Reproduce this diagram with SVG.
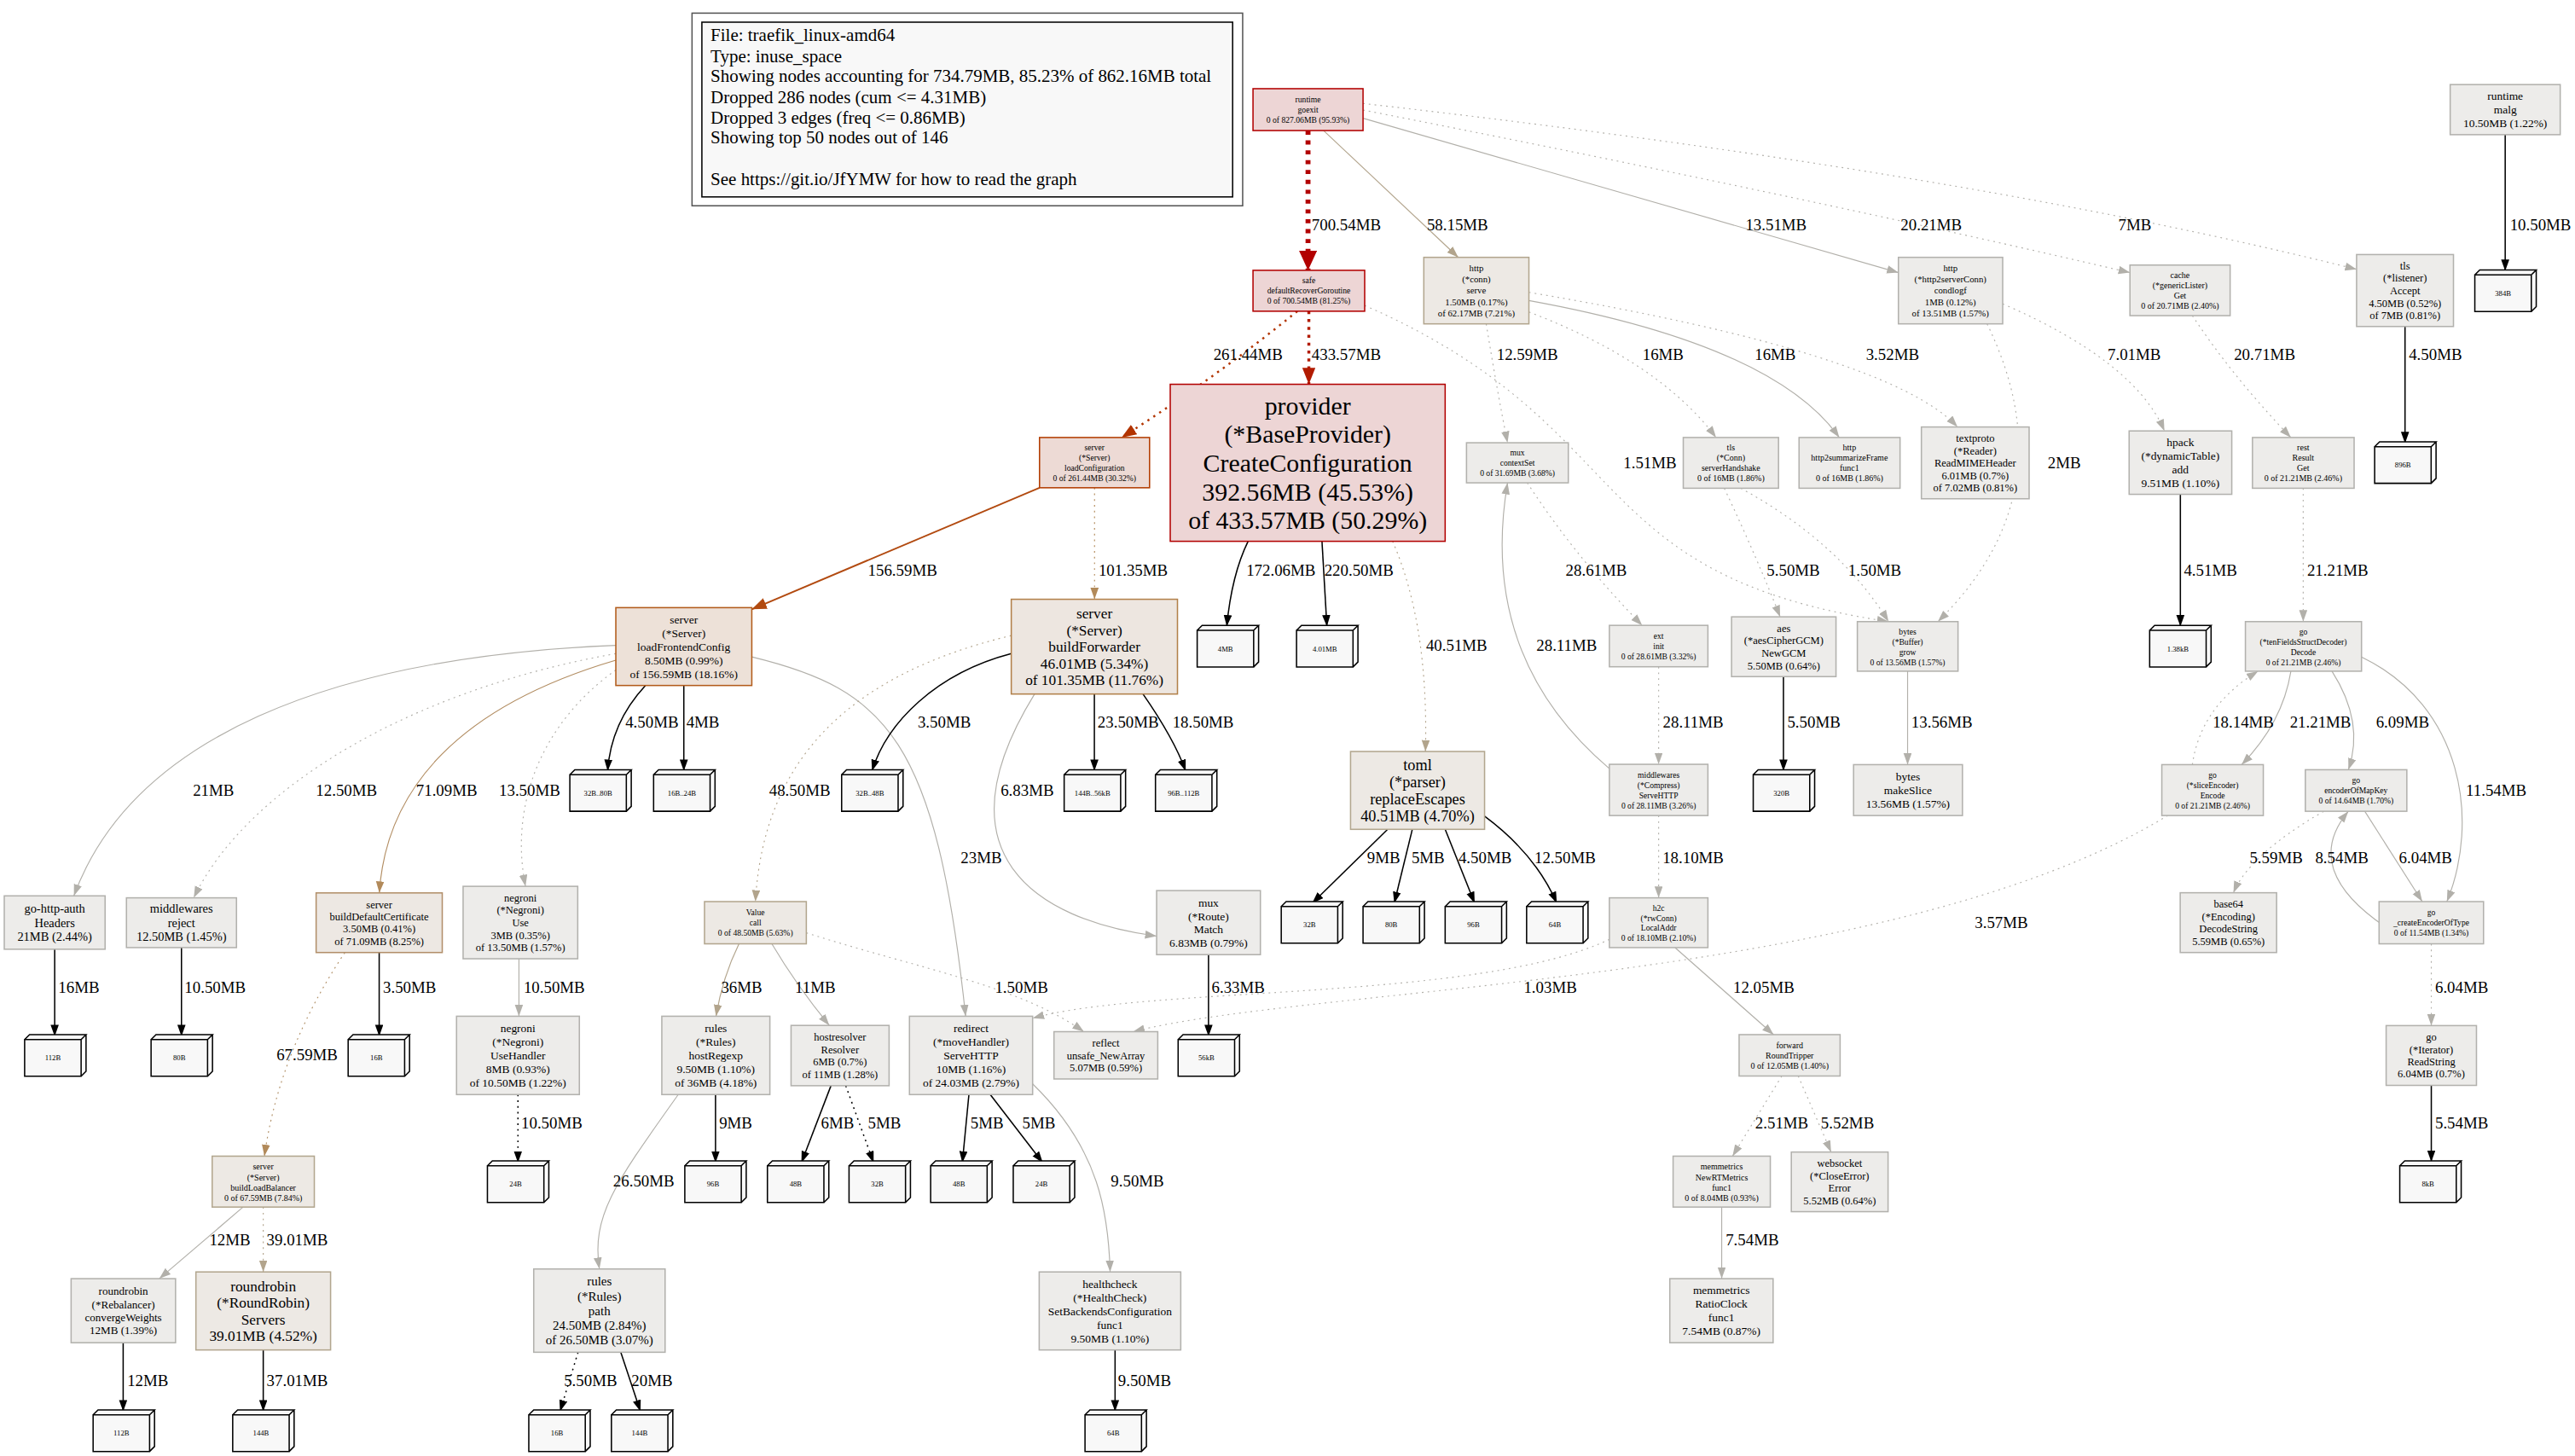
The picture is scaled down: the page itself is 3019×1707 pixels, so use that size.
<svg xmlns="http://www.w3.org/2000/svg" xmlns:xlink="http://www.w3.org/1999/xlink" width="3019" height="1707" viewBox="0 0 3019 1707">
<style>
text{font-family:"Liberation Serif","Times New Roman",serif;fill:#000;text-anchor:middle}
.leg text{text-anchor:start;font-size:10.9px}
.R{fill:#edd5d5;stroke:#b20000;stroke-width:0.8}
.O{fill:#eddad5;stroke:#b23c00;stroke-width:0.8}
.F{fill:#ede1d8;stroke:#b25b1a;stroke-width:0.8}
.B{fill:#ede6e0;stroke:#b2804a;stroke-width:0.8}
.C{fill:#ede8e3;stroke:#b28f6a;stroke-width:0.8}
.T{fill:#ede9e4;stroke:#b2a68e;stroke-width:0.8}
.G{fill:#edecea;stroke:#b2b1ad;stroke-width:0.8}
.s5{font-size:5px}.s52{font-size:5.2px}.s56{font-size:5.6px}.s65{font-size:6.5px}.s7{font-size:7px}.s75{font-size:7.5px}.s78{font-size:7.8px}.s9{font-size:9px}.s95{font-size:9.5px}.s155{font-size:15.5px}
.bl{font-size:4.5px}
.e{fill:none;stroke-width:0.6}
.g{stroke:#b2b0aa;marker-end:url(#mg)}
.t{stroke:#b2a48c;marker-end:url(#mt)}
.k{stroke:#000;stroke-width:0.8;marker-end:url(#mk)}
.d{stroke-dasharray:1,2.5}
.lb text,.lb{font-size:9.8px}
</style>
<defs>
<marker id="mg" markerUnits="userSpaceOnUse" markerWidth="8" markerHeight="6" refX="7" refY="2.5" orient="auto"><path d="M0,0L7,2.5L0,5z" fill="#b2b0aa"/></marker>
<marker id="mt" markerUnits="userSpaceOnUse" markerWidth="8" markerHeight="6" refX="7" refY="2.5" orient="auto"><path d="M0,0L7,2.5L0,5z" fill="#b2a48c"/></marker>
<marker id="mb" markerUnits="userSpaceOnUse" markerWidth="8" markerHeight="6" refX="7" refY="2.5" orient="auto"><path d="M0,0L7,2.5L0,5z" fill="#b28a5a"/></marker>
<marker id="mk" markerUnits="userSpaceOnUse" markerWidth="8" markerHeight="6" refX="7" refY="2.5" orient="auto"><path d="M0,0L7,2.5L0,5z" fill="#000"/></marker>
<marker id="mo" markerUnits="userSpaceOnUse" markerWidth="10" markerHeight="8" refX="9" refY="3.5" orient="auto"><path d="M0,0L9,3.5L0,7z" fill="#b24a10"/></marker>
<marker id="mo2" markerUnits="userSpaceOnUse" markerWidth="10" markerHeight="8" refX="9" refY="3.5" orient="auto"><path d="M0,0L9,3.5L0,7z" fill="#b23400"/></marker>
<marker id="mr" markerUnits="userSpaceOnUse" markerWidth="13" markerHeight="12" refX="12" refY="5.5" orient="auto"><path d="M0,0L12,5.5L0,11z" fill="#b20000"/></marker>
<marker id="mr2" markerUnits="userSpaceOnUse" markerWidth="11" markerHeight="9" refX="10" refY="4" orient="auto"><path d="M0,0L10,4L0,8z" fill="#b21b00"/></marker>
<path id="box" d="M0,3h34.4v22.3h-34.4zM0,3l3,-3h34.4l-3,3M34.4,25.3l3,-3V0" fill="#f8f8f8" stroke="#000" stroke-width="0.8"/>
</defs>
<rect width="3019" height="1707" fill="#fff"/>
<g transform="scale(1.92538)">
<g id="legend" class="leg">
<rect x="421.4" y="8" width="335.3" height="117.3" fill="#fff" stroke="#555" stroke-width="0.8"/>
<rect x="427.4" y="13.5" width="323.2" height="106.4" fill="#f8f8f8" stroke="#000" stroke-width="0.8"/>
<text x="432.7" y="24.8">File: traefik_linux-amd64</text>
<text x="432.7" y="37.8">Type: inuse_space</text>
<text x="432.7" y="50.1">Showing nodes accounting for 734.79MB, 85.23% of 862.16MB total</text>
<text x="432.7" y="62.6">Dropped 286 nodes (cum &lt;= 4.31MB)</text>
<text x="432.7" y="75.2">Dropped 3 edges (freq &lt;= 0.86MB)</text>
<text x="432.7" y="87.5">Showing top 50 nodes out of 146</text>
<text x="432.7" y="112.9">See https://git.io/JfYMW for how to read the graph</text>
</g>
<g id="edges" class="lb">
<path d="M796.5,79.5L796.5,164.6" fill="none" stroke="#b20000" stroke-width="3" stroke-dasharray="2.5,3.5" marker-end="url(#mr)"/><text x="819.8" y="140.4">700.54MB</text>
<path class="e t" d="M806,79.5L888,156.7"/><text x="887.5" y="140.4">58.15MB</text>
<path class="e g" d="M830,72L1156,166"/><text x="1081.5" y="140.4">13.51MB</text>
<path class="e g d" d="M830,67Q1100,120 1297,166"/><text x="1176" y="140.4">20.21MB</text>
<path class="e g d" d="M830,63Q1200,105 1435,164"/><text x="1300" y="140.4">7MB</text>
<path class="e k" d="M1525.5,82L1525.5,165"/><text x="1547" y="140.4">10.50MB</text>
<path class="e k" d="M1464.5,198.8L1464.5,270"/><text x="1483" y="219.4">4.50MB</text>
<path d="M790,189.5Q740,230 683,266.4" fill="none" stroke="#b23400" stroke-width="1.3" stroke-dasharray="1.3,3" marker-end="url(#mo2)"/><text x="760" y="219.4">261.44MB</text>
<path d="M797,189.5L797,234" fill="none" stroke="#b21b00" stroke-width="1.8" stroke-dasharray="1.8,3" marker-end="url(#mr2)"/><text x="819.8" y="219.4">433.57MB</text>
<path class="e g d" d="M831,186C1000,260 960,350 1150,378.5"/><text x="1004.7" y="285">1.51MB</text>
<path class="e g d" d="M905,197.2Q912,240 918,269.6"/><text x="930" y="219.4">12.59MB</text>
<path class="e g d" d="M931,190Q1010,220 1045,266.4"/><text x="1012.7" y="219.4">16MB</text>
<path class="e g" d="M931,183Q1080,210 1120,266.4"/><text x="1081" y="219.4">16MB</text>
<path class="e g d" d="M931,178Q1150,215 1192,260"/><text x="1152.4" y="219.4">3.52MB</text>
<path class="e g d" d="M1210,197.2Q1260,300 1180,378.5"/><text x="1257" y="285">2MB</text>
<path class="e g d" d="M1219.5,185Q1300,220 1318,262.4"/><text x="1299.6" y="219.4">7.01MB</text>
<path class="e g d" d="M1335,192.2Q1360,230 1395,266.4"/><text x="1379" y="219.4">20.71MB</text>
<path class="e k" d="M1327.7,301L1327.7,381.5"/><text x="1346" y="350.4">4.51MB</text>
<path class="e g d" d="M1402.5,297.3L1402.5,378.5"/><text x="1423.5" y="350.4">21.21MB</text>
<path class="e k" d="M760,329.6Q750,350 747,381.5"/><text x="780" y="350.4">172.06MB</text>
<path class="e k" d="M805,329.6L808,381.5"/><text x="827.5" y="350.4">220.50MB</text>
<path class="e t d" d="M848,329.6Q870,380 868,457.6"/><text x="887" y="396.4">40.51MB</text>
<path d="M633,297L457.8,371" fill="none" stroke="#b24a10" stroke-width="1" marker-end="url(#mo)"/><text x="549.6" y="350.4">156.59MB</text>
<path class="e d" d="M666.5,297L666.5,364.9" stroke="#b28a5a" marker-end="url(#mb)"/><text x="690" y="350.4">101.35MB</text>
<path class="e g d" d="M930,294Q960,340 1000,380.8"/><text x="972" y="350.4">28.61MB</text>
<path class="e g" d="M980,468Q900,400 918,294"/><text x="954" y="396.4">28.11MB</text>
<path class="e g d" d="M1010,406L1010,465.4"/><text x="1031" y="442.9">28.11MB</text>
<path class="e g d" d="M1050,297.3Q1070,340 1084,375.6"/><text x="1092" y="350.4">5.50MB</text>
<path class="e g d" d="M1060,297.3Q1120,330 1150,378.5"/><text x="1141.6" y="350.4">1.50MB</text>
<path class="e k" d="M1086,412L1086,469.5"/><text x="1104.5" y="442.9">5.50MB</text>
<path class="e g" d="M1161.6,408.7L1161.6,465.6"/><text x="1182.5" y="442.9">13.56MB</text>
<path class="e g" d="M1395,408.7Q1390,440 1365,465.6"/><text x="1413" y="442.9">21.21MB</text>
<path class="e g d" d="M1335,465.6Q1340,430 1375,408.7"/><text x="1366" y="442.9">18.14MB</text>
<path class="e g" d="M1420,408.7Q1440,440 1430,468.7"/><text x="1463" y="442.9">6.09MB</text>
<path class="e g" d="M1438,400C1500,430 1510,500 1490,549"/><text x="1520" y="484.4">11.54MB</text>
<path class="e g d" d="M1415,494Q1370,520 1360,543.6"/><text x="1386" y="525.4">5.59MB</text>
<path class="e g" d="M1455,566Q1400,530 1430,494"/><text x="1426" y="525.4">8.54MB</text>
<path class="e g" d="M1440,494L1475,549"/><text x="1477" y="525.4">6.04MB</text>
<path class="e g d" d="M1480.5,574.7L1480.5,624.5"/><text x="1499" y="604.4">6.04MB</text>
<path class="e k" d="M1480.5,660.9L1480.5,707.5"/><text x="1499" y="687">5.54MB</text>
<path class="e g d" d="M1320,496.6C1150,600 800,600 690,628.2"/><text x="1218.7" y="565">3.57MB</text>
<path class="e g d" d="M1010,496.6L1010,546.7"/><text x="1031" y="525.4">18.10MB</text>
<path class="e g" d="M1020,577L1080,630"/><text x="1074" y="604.4">12.05MB</text>
<path class="e g d" d="M980,572C900,610 700,600 628.8,620"/><text x="944" y="604.4">1.03MB</text>
<path class="e g d" d="M491,568C560,590 620,600 660,628.2"/><text x="622" y="604.4">1.50MB</text>
<path class="e g d" d="M1085,655.2L1055,704"/><text x="1085" y="687">2.51MB</text>
<path class="e g d" d="M1095,655.2L1115,701.5"/><text x="1125" y="687">5.52MB</text>
<path class="e g" d="M1048.4,735L1048.4,778.6"/><text x="1067" y="758.2">7.54MB</text>
<path class="e g" d="M375,393C200,400 80,450 45,545.5"/><text x="130" y="484.4">21MB</text>
<path class="e g d" d="M375,398C250,420 150,480 118,546.7"/><text x="211" y="484.4">12.50MB</text>
<path class="e" d="M375,402C280,430 235,480 231,543.7" stroke="#b28d62" marker-end="url(#mb)"/><text x="272" y="484.4">71.09MB</text>
<path class="e g d" d="M375,408C330,440 310,490 320,539.7"/><text x="322.5" y="484.4">13.50MB</text>
<path class="e k" d="M393,417.4Q372,440 370,469.5"/><text x="397" y="442.9">4.50MB</text>
<path class="e k" d="M416.4,417.4L416.4,469.5"/><text x="428" y="442.9">4MB</text>
<path class="e g" d="M457.8,400C540,420 570,450 588,618.8"/><text x="597.5" y="525.4">23MB</text>
<path class="e t d" d="M615.8,387C520,410 465,460 460,549"/><text x="487" y="484.4">48.50MB</text>
<path class="e k" d="M615.8,398C570,410 540,440 531,469.5"/><text x="575" y="442.9">3.50MB</text>
<path class="e k" d="M666.4,422.6L666.4,469.5"/><text x="687" y="442.9">23.50MB</text>
<path class="e k" d="M696,422.6Q715,450 722,469.5"/><text x="732.6" y="442.9">18.50MB</text>
<path class="e g" d="M630,422.6C570,520 630,560 704.3,570"/><text x="625.5" y="484.4">6.83MB</text>
<path class="e k" d="M845,505L799,550"/><text x="842.5" y="525.4">9MB</text>
<path class="e k" d="M860,505L849,550"/><text x="869.6" y="525.4">5MB</text>
<path class="e k" d="M880,505L898,550"/><text x="904.3" y="525.4">4.50MB</text>
<path class="e k" d="M904,497Q935,520 948,550"/><text x="953" y="525.4">12.50MB</text>
<path class="e k" d="M735.9,581.3L735.9,631"/><text x="754" y="604.4">6.33MB</text>
<path class="e k" d="M33.3,578L33.3,631"/><text x="48" y="604.4">16MB</text>
<path class="e k" d="M110.5,577L110.5,631"/><text x="131" y="604.4">10.50MB</text>
<path class="e k" d="M230.9,580L230.9,631"/><text x="249.4" y="604.4">3.50MB</text>
<path class="e d" d="M210,580Q170,640 161,704" stroke="#b2926a" marker-end="url(#mb)"/><text x="187" y="645.4">67.59MB</text>
<path class="e g" d="M316,583.8L316,618.8"/><text x="337.5" y="604.4">10.50MB</text>
<path class="e k d" d="M315.4,666.5L315.4,708"/><text x="336" y="687">10.50MB</text>
<path class="e t" d="M450,574.7Q440,595 436,618.8"/><text x="451.6" y="604.4">36MB</text>
<path class="e g" d="M470,574.7Q485,600 505,624.4"/><text x="496.4" y="604.4">11MB</text>
<path class="e k" d="M435.7,666.5L435.7,708"/><text x="448" y="687">9MB</text>
<path class="e g" d="M413,666.5C375,720 360,740 365,772.7"/><text x="392" y="722.6">26.50MB</text>
<path class="e k" d="M506,661.1L488,708"/><text x="510" y="687">6MB</text>
<path class="e k d" d="M515,661.1L532,708"/><text x="538.6" y="687">5MB</text>
<path class="e k" d="M590,666.5L586,708"/><text x="601" y="687">5MB</text>
<path class="e k" d="M603,666.5L635,708"/><text x="632.6" y="687">5MB</text>
<path class="e g" d="M628.8,660C670,700 675,740 676,774.5"/><text x="692.6" y="722.6">9.50MB</text>
<path class="e g" d="M148,735L97,778.6"/><text x="140" y="758.2">12MB</text>
<path class="e t d" d="M160.3,735L160.3,774.5"/><text x="181" y="758.2">39.01MB</text>
<path class="e k" d="M75,817.6L75,859.5"/><text x="90" y="844">12MB</text>
<path class="e k" d="M160.3,822L160.3,859.5"/><text x="181" y="844">37.01MB</text>
<path class="e k d" d="M352,823.4L341,859.5"/><text x="359.6" y="844">5.50MB</text>
<path class="e k" d="M378,823.4L390,859.5"/><text x="397" y="844">20MB</text>
<path class="e k" d="M679,822L679,859.5"/><text x="697" y="844">9.50MB</text>
</g>
<g id="goexit"><rect class="R" x="763" y="54" width="67" height="25.5"/><text class="s5"><tspan x="796.5" y="62.3">runtime</tspan><tspan x="796.5" y="68.5">goexit</tspan><tspan x="796.5" y="74.7">0 of 827.06MB (95.93%)</tspan></text></g>
<g id="safe"><rect class="R" x="763" y="164.6" width="68" height="24.9"/><text class="s5"><tspan x="797" y="172.6">safe</tspan><tspan x="797" y="178.8">defaultRecoverGoroutine</tspan><tspan x="797" y="185">0 of 700.54MB (81.25%)</tspan></text></g>
<g id="provider"><rect class="R" x="712.6" y="234" width="167.4" height="95.6"/><text class="s155"><tspan x="796.3" y="252.2">provider</tspan><tspan x="796.3" y="269.7">(*BaseProvider)</tspan><tspan x="796.3" y="287.2">CreateConfiguration</tspan><tspan x="796.3" y="304.7">392.56MB (45.53%)</tspan><tspan x="796.3" y="322.2">of 433.57MB (50.29%)</tspan></text></g>
<g id="loadConfiguration"><rect class="O" x="633" y="266.4" width="67" height="30.6"/><text class="s5"><tspan x="666.5" y="274.4">server</tspan><tspan x="666.5" y="280.6">(*Server)</tspan><tspan x="666.5" y="286.8">loadConfiguration</tspan><tspan x="666.5" y="293">0 of 261.44MB (30.32%)</tspan></text></g>
<g id="httpServe"><rect class="T" x="867" y="156.7" width="64" height="40.5"/><text class="s56"><tspan x="899" y="165.1">http</tspan><tspan x="899" y="172">(*conn)</tspan><tspan x="899" y="178.9">serve</tspan><tspan x="899" y="185.8">1.50MB (0.17%)</tspan><tspan x="899" y="192.7">of 62.17MB (7.21%)</tspan></text></g>
<g id="contextSet"><rect class="G" x="893" y="269.6" width="62" height="24.4"/><text class="s5"><tspan x="924" y="277.4">mux</tspan><tspan x="924" y="283.6">contextSet</tspan><tspan x="924" y="289.8">0 of 31.69MB (3.68%)</tspan></text></g>
<g id="condlogf"><rect class="G" x="1156" y="156.7" width="63.5" height="40.5"/><text class="s56"><tspan x="1187.7" y="165.1">http</tspan><tspan x="1187.7" y="172">(*http2serverConn)</tspan><tspan x="1187.7" y="178.9">condlogf</tspan><tspan x="1187.7" y="185.8">1MB (0.12%)</tspan><tspan x="1187.7" y="192.7">of 13.51MB (1.57%)</tspan></text></g>
<g id="cacheGet"><rect class="G" x="1297" y="161.4" width="61" height="30.8"/><text class="s52"><tspan x="1327.5" y="169.3">cache</tspan><tspan x="1327.5" y="175.5">(*genericLister)</tspan><tspan x="1327.5" y="181.7">Get</tspan><tspan x="1327.5" y="187.9">0 of 20.71MB (2.40%)</tspan></text></g>
<g id="tlsAccept"><rect class="G" x="1435" y="155" width="59" height="43.8"/><text class="s65"><tspan x="1464.5" y="164">tls</tspan><tspan x="1464.5" y="171.6">(*listener)</tspan><tspan x="1464.5" y="179.2">Accept</tspan><tspan x="1464.5" y="186.8">4.50MB (0.52%)</tspan><tspan x="1464.5" y="194.4">of 7MB (0.81%)</tspan></text></g>
<g id="malg"><rect class="G" x="1492" y="51.5" width="67" height="30.5"/><text class="s7"><tspan x="1525.5" y="60.95">runtime</tspan><tspan x="1525.5" y="69.2">malg</tspan><tspan x="1525.5" y="77.45">10.50MB (1.22%)</tspan></text></g>
<g id="serverHandshake"><rect class="G" x="1025" y="266.4" width="58" height="30.9"/><text class="s52"><tspan x="1054" y="274.4">tls</tspan><tspan x="1054" y="280.6">(*Conn)</tspan><tspan x="1054" y="286.8">serverHandshake</tspan><tspan x="1054" y="293">0 of 16MB (1.86%)</tspan></text></g>
<g id="summarizeFrame"><rect class="G" x="1095.5" y="266.4" width="61.5" height="30.9"/><text class="s52"><tspan x="1126.2" y="274.4">http</tspan><tspan x="1126.2" y="280.6">http2summarizeFrame</tspan><tspan x="1126.2" y="286.8">func1</tspan><tspan x="1126.2" y="293">0 of 16MB (1.86%)</tspan></text></g>
<g id="textproto"><rect class="G" x="1170" y="260" width="65.6" height="43.7"/><text class="s65"><tspan x="1202.8" y="269">textproto</tspan><tspan x="1202.8" y="276.6">(*Reader)</tspan><tspan x="1202.8" y="284.1">ReadMIMEHeader</tspan><tspan x="1202.8" y="291.7">6.01MB (0.7%)</tspan><tspan x="1202.8" y="299.2">of 7.02MB (0.81%)</tspan></text></g>
<g id="hpack"><rect class="G" x="1296.5" y="262.4" width="62.5" height="38.6"/><text class="s7"><tspan x="1327.7" y="271.7">hpack</tspan><tspan x="1327.7" y="280">(*dynamicTable)</tspan><tspan x="1327.7" y="288.3">add</tspan><tspan x="1327.7" y="296.6">9.51MB (1.10%)</tspan></text></g>
<g id="restGet"><rect class="G" x="1371.6" y="266.4" width="61.9" height="30.9"/><text class="s52"><tspan x="1402.5" y="274.4">rest</tspan><tspan x="1402.5" y="280.6">Result</tspan><tspan x="1402.5" y="286.8">Get</tspan><tspan x="1402.5" y="293">0 of 21.21MB (2.46%)</tspan></text></g>
<g id="loadFrontendConfig"><rect class="F" x="375" y="370" width="82.8" height="47.4"/><text class="s7"><tspan x="416.4" y="379.6">server</tspan><tspan x="416.4" y="387.9">(*Server)</tspan><tspan x="416.4" y="396.2">loadFrontendConfig</tspan><tspan x="416.4" y="404.5">8.50MB (0.99%)</tspan><tspan x="416.4" y="412.8">of 156.59MB (18.16%)</tspan></text></g>
<g id="buildForwarder"><rect class="B" x="615.8" y="364.9" width="101.2" height="57.7"/><text class="s9"><tspan x="666.4" y="376.5">server</tspan><tspan x="666.4" y="386.7">(*Server)</tspan><tspan x="666.4" y="396.9">buildForwarder</tspan><tspan x="666.4" y="407.1">46.01MB (5.34%)</tspan><tspan x="666.4" y="417.3">of 101.35MB (11.76%)</tspan></text></g>
<g id="extInit"><rect class="G" x="980" y="380.8" width="60" height="25.2"/><text class="s5"><tspan x="1010" y="389">ext</tspan><tspan x="1010" y="395.2">init</tspan><tspan x="1010" y="401.4">0 of 28.61MB (3.32%)</tspan></text></g>
<g id="aesNewGCM"><rect class="G" x="1054.4" y="375.6" width="63.6" height="36.4"/><text class="s65"><tspan x="1086.2" y="384.7">aes</tspan><tspan x="1086.2" y="392.3">(*aesCipherGCM)</tspan><tspan x="1086.2" y="399.9">NewGCM</tspan><tspan x="1086.2" y="407.5">5.50MB (0.64%)</tspan></text></g>
<g id="bytesGrow"><rect class="G" x="1131" y="378.5" width="61.3" height="30.2"/><text class="s5"><tspan x="1161.6" y="386.3">bytes</tspan><tspan x="1161.6" y="392.5">(*Buffer)</tspan><tspan x="1161.6" y="398.7">grow</tspan><tspan x="1161.6" y="404.9">0 of 13.56MB (1.57%)</tspan></text></g>
<g id="tenFieldsDecode"><rect class="G" x="1367.3" y="378.5" width="70.7" height="30.2"/><text class="s5"><tspan x="1402.6" y="386.3">go</tspan><tspan x="1402.6" y="392.5">(*tenFieldsStructDecoder)</tspan><tspan x="1402.6" y="398.7">Decode</tspan><tspan x="1402.6" y="404.9">0 of 21.21MB (2.46%)</tspan></text></g>
<g id="toml"><rect class="T" x="822.4" y="457.6" width="81.6" height="47.4"/><text class="s95"><tspan x="863.2" y="469">toml</tspan><tspan x="863.2" y="479.4">(*parser)</tspan><tspan x="863.2" y="489.8">replaceEscapes</tspan><tspan x="863.2" y="500.2">40.51MB (4.70%)</tspan></text></g>
<g id="compress"><rect class="G" x="980" y="465.4" width="60" height="31.2"/><text class="s5"><tspan x="1010" y="473.7">middlewares</tspan><tspan x="1010" y="479.9">(*Compress)</tspan><tspan x="1010" y="486.1">ServeHTTP</tspan><tspan x="1010" y="492.3">0 of 28.11MB (3.26%)</tspan></text></g>
<g id="makeSlice"><rect class="G" x="1128.7" y="465.6" width="66.3" height="31"/><text class="s7"><tspan x="1161.8" y="475.35">bytes</tspan><tspan x="1161.8" y="483.55">makeSlice</tspan><tspan x="1161.8" y="491.75">13.56MB (1.57%)</tspan></text></g>
<g id="sliceEncoder"><rect class="G" x="1316.4" y="465.6" width="61.8" height="31"/><text class="s5"><tspan x="1347.3" y="473.8">go</tspan><tspan x="1347.3" y="480">(*sliceEncoder)</tspan><tspan x="1347.3" y="486.2">Encode</tspan><tspan x="1347.3" y="492.4">0 of 21.21MB (2.46%)</tspan></text></g>
<g id="encoderOfMapKey"><rect class="G" x="1403.8" y="468.7" width="61.8" height="25.3"/><text class="s5"><tspan x="1434.7" y="476.9">go</tspan><tspan x="1434.7" y="483.1">encoderOfMapKey</tspan><tspan x="1434.7" y="489.3">0 of 14.64MB (1.70%)</tspan></text></g>
<g id="goHttpAuth"><rect class="G" x="2.6" y="545.5" width="61.4" height="32.5"/><text class="s75"><tspan x="33.3" y="555.75">go-http-auth</tspan><tspan x="33.3" y="564.35">Headers</tspan><tspan x="33.3" y="572.95">21MB (2.44%)</tspan></text></g>
<g id="reject"><rect class="G" x="77" y="546.7" width="67" height="30.3"/><text class="s75"><tspan x="110.5" y="555.85">middlewares</tspan><tspan x="110.5" y="564.45">reject</tspan><tspan x="110.5" y="573.05">12.50MB (1.45%)</tspan></text></g>
<g id="buildDefaultCertificate"><rect class="C" x="192.5" y="543.7" width="76.8" height="36.3"/><text class="s65"><tspan x="230.9" y="552.9">server</tspan><tspan x="230.9" y="560.4">buildDefaultCertificate</tspan><tspan x="230.9" y="567.9">3.50MB (0.41%)</tspan><tspan x="230.9" y="575.4">of 71.09MB (8.25%)</tspan></text></g>
<g id="negroniUse"><rect class="G" x="282" y="539.7" width="69.8" height="44.1"/><text class="s65"><tspan x="316.9" y="548.8">negroni</tspan><tspan x="316.9" y="556.4">(*Negroni)</tspan><tspan x="316.9" y="564">Use</tspan><tspan x="316.9" y="571.6">3MB (0.35%)</tspan><tspan x="316.9" y="579.2">of 13.50MB (1.57%)</tspan></text></g>
<g id="valueCall"><rect class="T" x="429" y="549" width="62" height="25.7"/><text class="s5"><tspan x="460" y="557.4">Value</tspan><tspan x="460" y="563.6">call</tspan><tspan x="460" y="569.8">0 of 48.50MB (5.63%)</tspan></text></g>
<g id="muxRoute"><rect class="G" x="704.3" y="542.3" width="63.2" height="39"/><text class="s7"><tspan x="735.9" y="552">mux</tspan><tspan x="735.9" y="560.2">(*Route)</tspan><tspan x="735.9" y="568.4">Match</tspan><tspan x="735.9" y="576.6">6.83MB (0.79%)</tspan></text></g>
<g id="h2c"><rect class="G" x="980" y="546.7" width="60" height="30.3"/><text class="s5"><tspan x="1010" y="554.5">h2c</tspan><tspan x="1010" y="560.7">(*rwConn)</tspan><tspan x="1010" y="566.9">LocalAddr</tspan><tspan x="1010" y="573.1">0 of 18.10MB (2.10%)</tspan></text></g>
<g id="base64"><rect class="G" x="1327.6" y="543.6" width="58.7" height="36.4"/><text class="s65"><tspan x="1357" y="552.7">base64</tspan><tspan x="1357" y="560.3">(*Encoding)</tspan><tspan x="1357" y="567.9">DecodeString</tspan><tspan x="1357" y="575.5">5.59MB (0.65%)</tspan></text></g>
<g id="createEncoderOfType"><rect class="G" x="1448.7" y="549" width="63.6" height="25.7"/><text class="s5"><tspan x="1480.5" y="557.4">go</tspan><tspan x="1480.5" y="563.6">_createEncoderOfType</tspan><tspan x="1480.5" y="569.8">0 of 11.54MB (1.34%)</tspan></text></g>
<g id="useHandler"><rect class="G" x="278" y="618.8" width="74.8" height="47.7"/><text class="s7"><tspan x="315.4" y="628.6">negroni</tspan><tspan x="315.4" y="636.9">(*Negroni)</tspan><tspan x="315.4" y="645.1">UseHandler</tspan><tspan x="315.4" y="653.4">8MB (0.93%)</tspan><tspan x="315.4" y="661.6">of 10.50MB (1.22%)</tspan></text></g>
<g id="hostRegexp"><rect class="G" x="403" y="618.8" width="65.8" height="47.7"/><text class="s7"><tspan x="435.9" y="628.6">rules</tspan><tspan x="435.9" y="636.9">(*Rules)</tspan><tspan x="435.9" y="645.1">hostRegexp</tspan><tspan x="435.9" y="653.4">9.50MB (1.10%)</tspan><tspan x="435.9" y="661.6">of 36MB (4.18%)</tspan></text></g>
<g id="hostresolver"><rect class="G" x="481.7" y="624.4" width="59.7" height="36.7"/><text class="s65"><tspan x="511.5" y="633.7">hostresolver</tspan><tspan x="511.5" y="641.2">Resolver</tspan><tspan x="511.5" y="648.8">6MB (0.7%)</tspan><tspan x="511.5" y="656.4">of 11MB (1.28%)</tspan></text></g>
<g id="redirect"><rect class="G" x="553.8" y="618.8" width="75" height="47.7"/><text class="s7"><tspan x="591.3" y="628.6">redirect</tspan><tspan x="591.3" y="636.9">(*moveHandler)</tspan><tspan x="591.3" y="645.1">ServeHTTP</tspan><tspan x="591.3" y="653.4">10MB (1.16%)</tspan><tspan x="591.3" y="661.6">of 24.03MB (2.79%)</tspan></text></g>
<g id="reflect"><rect class="G" x="641.8" y="628.2" width="63.2" height="28.8"/><text class="s65"><tspan x="673.4" y="637.4">reflect</tspan><tspan x="673.4" y="644.9">unsafe_NewArray</tspan><tspan x="673.4" y="652.4">5.07MB (0.59%)</tspan></text></g>
<g id="forward"><rect class="G" x="1059" y="630" width="61.5" height="25.2"/><text class="s52"><tspan x="1089.8" y="638.2">forward</tspan><tspan x="1089.8" y="644.4">RoundTripper</tspan><tspan x="1089.8" y="650.6">0 of 12.05MB (1.40%)</tspan></text></g>
<g id="iterator"><rect class="G" x="1453" y="624.5" width="55" height="36.4"/><text class="s65"><tspan x="1480.5" y="633.7">go</tspan><tspan x="1480.5" y="641.2">(*Iterator)</tspan><tspan x="1480.5" y="648.7">ReadString</tspan><tspan x="1480.5" y="656.2">6.04MB (0.7%)</tspan></text></g>
<g id="buildLoadBalancer"><rect class="T" x="129.2" y="704" width="62.2" height="31"/><text class="s52"><tspan x="160.3" y="712.3">server</tspan><tspan x="160.3" y="718.6">(*Server)</tspan><tspan x="160.3" y="724.9">buildLoadBalancer</tspan><tspan x="160.3" y="731.2">0 of 67.59MB (7.84%)</tspan></text></g>
<g id="newRTMetrics"><rect class="G" x="1018.8" y="704" width="59.2" height="31"/><text class="s52"><tspan x="1048.4" y="712.3">memmetrics</tspan><tspan x="1048.4" y="718.6">NewRTMetrics</tspan><tspan x="1048.4" y="724.9">func1</tspan><tspan x="1048.4" y="731.2">0 of 8.04MB (0.93%)</tspan></text></g>
<g id="websocket"><rect class="G" x="1090.8" y="701.5" width="58.9" height="36.3"/><text class="s65"><tspan x="1120.2" y="710.6">websocket</tspan><tspan x="1120.2" y="718.2">(*CloseError)</tspan><tspan x="1120.2" y="725.7">Error</tspan><tspan x="1120.2" y="733.3">5.52MB (0.64%)</tspan></text></g>
<g id="rebalancer"><rect class="G" x="43.3" y="778.6" width="63.6" height="39"/><text style="font-size:6.8px"><tspan x="75.1" y="788.6">roundrobin</tspan><tspan x="75.1" y="796.5">(*Rebalancer)</tspan><tspan x="75.1" y="804.4">convergeWeights</tspan><tspan x="75.1" y="812.3">12MB (1.39%)</tspan></text></g>
<g id="servers"><rect class="T" x="119.3" y="774.5" width="82" height="47.5"/><text class="s9"><tspan x="160.3" y="786.1">roundrobin</tspan><tspan x="160.3" y="796.3">(*RoundRobin)</tspan><tspan x="160.3" y="806.5">Servers</tspan><tspan x="160.3" y="816.7">39.01MB (4.52%)</tspan></text></g>
<g id="rulesPath"><rect class="G" x="325" y="772.7" width="80" height="50.7"/><text class="s78"><tspan x="365" y="782.9">rules</tspan><tspan x="365" y="791.9">(*Rules)</tspan><tspan x="365" y="800.8">path</tspan><tspan x="365" y="809.7">24.50MB (2.84%)</tspan><tspan x="365" y="818.7">of 26.50MB (3.07%)</tspan></text></g>
<g id="healthcheck"><rect class="G" x="632.8" y="774.5" width="86.2" height="47.5"/><text class="s7"><tspan x="675.9" y="784.2">healthcheck</tspan><tspan x="675.9" y="792.5">(*HealthCheck)</tspan><tspan x="675.9" y="800.7">SetBackendsConfiguration</tspan><tspan x="675.9" y="809">func1</tspan><tspan x="675.9" y="817.3">9.50MB (1.10%)</tspan></text></g>
<g id="ratioClock"><rect class="G" x="1016.8" y="778.6" width="62.9" height="39"/><text class="s7"><tspan x="1048.2" y="788.1">memmetrics</tspan><tspan x="1048.2" y="796.4">RatioClock</tspan><tspan x="1048.2" y="804.6">func1</tspan><tspan x="1048.2" y="812.9">7.54MB (0.87%)</tspan></text></g>
<g id="allocs" class="bl">
<g id="a384"><use href="#box" x="1507" y="164.4"/><text x="1524.2" y="180.2">384B</text></g>
<g id="a896"><use href="#box" x="1446" y="269"/><text x="1463.2" y="284.8">896B</text></g>
<g id="a4MB"><use href="#box" x="729" y="380.8"/><text x="746.2" y="396.6">4MB</text></g>
<g id="a401"><use href="#box" x="789.5" y="380.8"/><text x="806.7" y="396.6">4.01MB</text></g>
<g id="a138"><use href="#box" x="1309" y="380.8"/><text x="1326.2" y="396.6">1.38kB</text></g>
<g id="a3280"><use href="#box" x="347" y="468.7"/><text x="364.2" y="484.5">32B..80B</text></g>
<g id="a1624"><use href="#box" x="398" y="468.7"/><text x="415.2" y="484.5">16B..24B</text></g>
<g id="a3248"><use href="#box" x="512.5" y="468.7"/><text x="529.7" y="484.5">32B..48B</text></g>
<g id="a14456"><use href="#box" x="648" y="468.7"/><text x="665.2" y="484.5">144B..56kB</text></g>
<g id="a96112"><use href="#box" x="703.6" y="468.7"/><text x="720.8" y="484.5">96B..112B</text></g>
<g id="a320"><use href="#box" x="1067.6" y="468.7"/><text x="1084.8" y="484.5">320B</text></g>
<g id="a32t"><use href="#box" x="780.2" y="549"/><text x="797.4" y="564.8">32B</text></g>
<g id="a80t"><use href="#box" x="830" y="549"/><text x="847.2" y="564.8">80B</text></g>
<g id="a96t"><use href="#box" x="880" y="549"/><text x="897.2" y="564.8">96B</text></g>
<g id="a64t"><use href="#box" x="929.6" y="549"/><text x="946.8" y="564.8">64B</text></g>
<g id="a112a"><use href="#box" x="15" y="630"/><text x="32.2" y="645.8">112B</text></g>
<g id="a80r"><use href="#box" x="92" y="630"/><text x="109.2" y="645.8">80B</text></g>
<g id="a16c"><use href="#box" x="212" y="630"/><text x="229.2" y="645.8">16B</text></g>
<g id="a56k"><use href="#box" x="717.4" y="630"/><text x="734.6" y="645.8">56kB</text></g>
<g id="a24u"><use href="#box" x="296.8" y="706.9"/><text x="314" y="722.7">24B</text></g>
<g id="a96h"><use href="#box" x="417" y="706.9"/><text x="434.2" y="722.7">96B</text></g>
<g id="a48h"><use href="#box" x="467.3" y="706.9"/><text x="484.5" y="722.7">48B</text></g>
<g id="a32h"><use href="#box" x="517" y="706.9"/><text x="534.2" y="722.7">32B</text></g>
<g id="a48r"><use href="#box" x="566.7" y="706.9"/><text x="583.9" y="722.7">48B</text></g>
<g id="a24r"><use href="#box" x="617" y="706.9"/><text x="634.2" y="722.7">24B</text></g>
<g id="a8k"><use href="#box" x="1461.3" y="706.9"/><text x="1478.5" y="722.7">8kB</text></g>
<g id="a112b"><use href="#box" x="56.7" y="858.5"/><text x="73.9" y="874.3">112B</text></g>
<g id="a144s"><use href="#box" x="141.7" y="858.5"/><text x="158.9" y="874.3">144B</text></g>
<g id="a16p"><use href="#box" x="322" y="858.5"/><text x="339.2" y="874.3">16B</text></g>
<g id="a144p"><use href="#box" x="372.3" y="858.5"/><text x="389.5" y="874.3">144B</text></g>
<g id="a64h"><use href="#box" x="660.7" y="858.5"/><text x="677.9" y="874.3">64B</text></g>
</g>
</g>
</svg>
